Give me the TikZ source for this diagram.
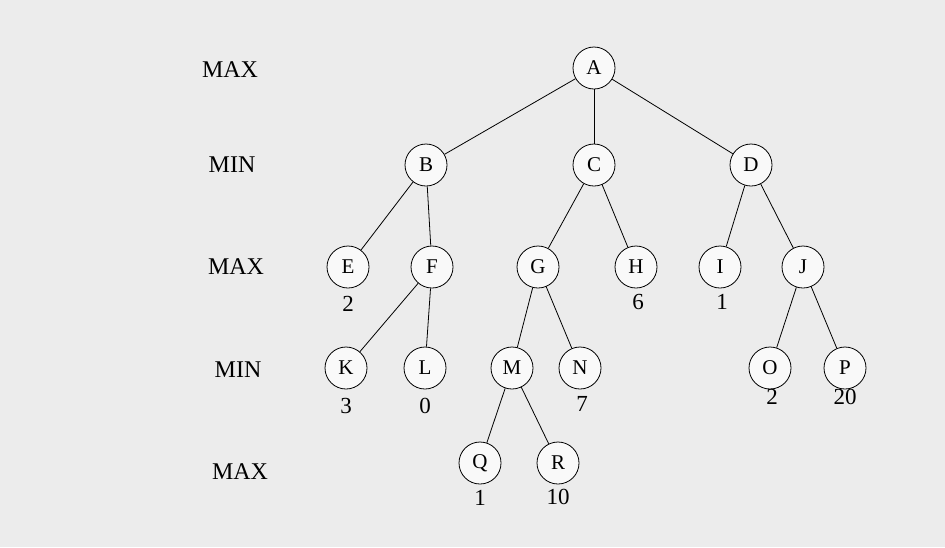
\documentclass[tikz,border=0pt]{standalone}
\usepackage{fontspec}
\setmainfont{Liberation Serif}
\begin{document}
\begin{tikzpicture}[x=0.5pt,y=-0.5pt,
  st/.style={circle,draw,thin,minimum size=21pt,inner sep=0pt,font=\fontsize{10.5}{12}\selectfont,fill=white!95!gray},
  val/.style={font=\fontsize{11.5}{13}\selectfont},
  lvl/.style={font=\fontsize{12}{14}\selectfont},
  every path/.style={thin}]
\fill[gray!15] (0,0) rectangle (945,547);
\useasboundingbox (0,0) rectangle (945,547);
\node[lvl] (l1) at (230,70) {MAX};
\node[lvl] (l2) at (232,165) {MIN};
\node[lvl] (l3) at (236,267) {MAX};
\node[lvl] (l4) at (238,370) {MIN};
\node[lvl] (l5) at (240,472) {MAX};
\node[st] (A) at (594,68) {A};
\node[st] (B) at (426,165) {B};
\node[st] (C) at (594,165) {C};
\node[st] (D) at (751,165) {D};
\node[st] (E) at (348,267) {E};
\node[st] (F) at (432,267) {F};
\node[st] (G) at (538,267) {G};
\node[st] (H) at (636,267) {H};
\node[st] (I) at (720,267) {I};
\node[st] (J) at (803,267) {J};
\node[st] (K) at (346,368) {K};
\node[st] (L) at (425,368) {L};
\node[st] (M) at (512,368) {M};
\node[st] (N) at (580,368) {N};
\node[st] (O) at (770,368) {O};
\node[st] (P) at (845,368) {P};
\node[st] (Q) at (480,463) {Q};
\node[st] (R) at (558,463) {R};
\node[val] (vE) at (348,304) {2};
\node[val] (vH) at (638,302) {6};
\node[val] (vI) at (722,302) {1};
\node[val] (vK) at (346,406) {3};
\node[val] (vL) at (425,406) {0};
\node[val] (vN) at (582,404) {7};
\node[val] (vO) at (772,397) {2};
\node[val] (vP) at (845,397) {20};
\node[val] (vQ) at (480,498) {1};
\node[val] (vR) at (558,497) {10};
\foreach \a/\b in {A/B,A/C,A/D,B/E,B/F,C/G,C/H,D/I,D/J,F/K,F/L,G/M,G/N,M/Q,M/R,J/O,J/P}
  \draw (\a) -- (\b);
\end{tikzpicture}
\end{document}
